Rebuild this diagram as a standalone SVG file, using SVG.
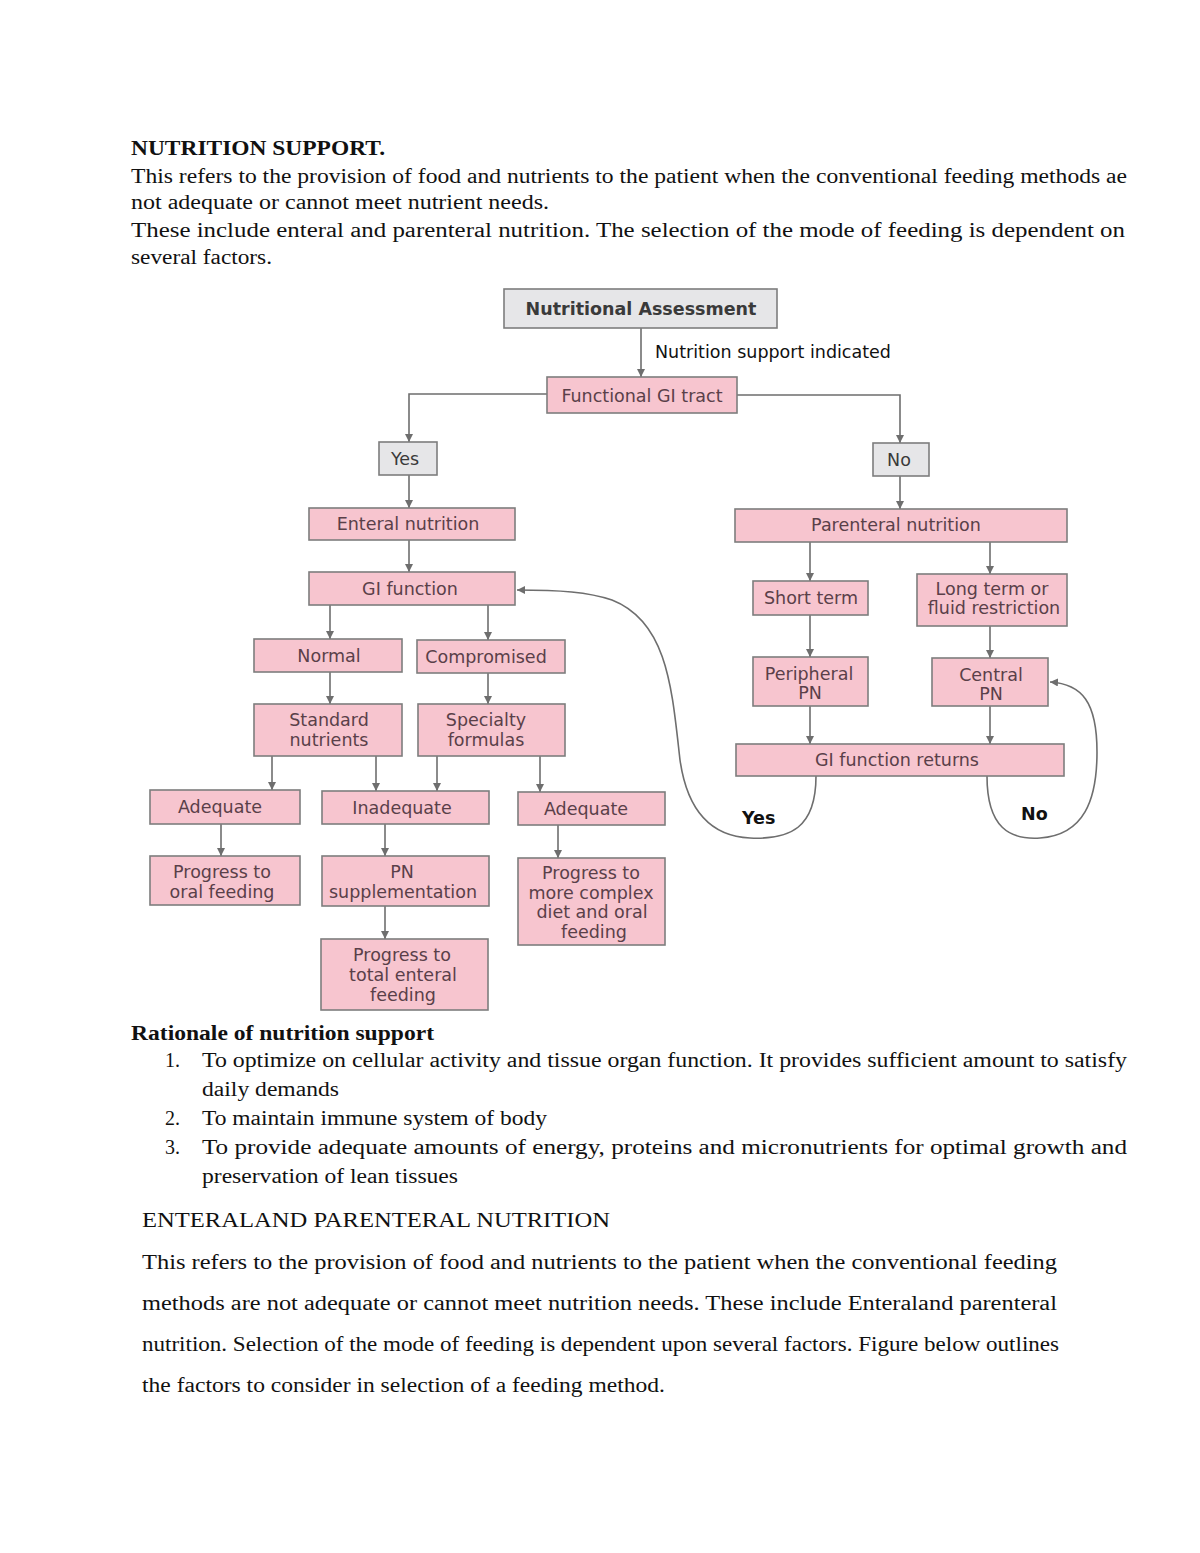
<svg xmlns="http://www.w3.org/2000/svg" width="1200" height="1553" viewBox="0 0 1200 1553">
<defs>
<style>
.doc{font-family:"Liberation Serif","Times New Roman",serif;font-size:20px;fill:#111}
.b{font-weight:bold}
.pk{fill:#f7c5cf;stroke:#7d7d7d;stroke-width:1.6}
.gy{fill:#e6e6e8;stroke:#7d7d7d;stroke-width:1.6}
.nt{font-family:"DejaVu Sans","Liberation Sans",Arial,sans-serif;font-size:17.5px;fill:#5a4049;text-anchor:middle}
.gt{font-family:"DejaVu Sans","Liberation Sans",Arial,sans-serif;font-size:17.5px;fill:#3a3a3a;text-anchor:middle}
.lbl{font-family:"DejaVu Sans","Liberation Sans",Arial,sans-serif;font-size:17.5px;fill:#111}
.ln{fill:none;stroke:#6e6e6e;stroke-width:1.6}
</style>
<marker id="ah" viewBox="0 0 10 10" refX="10" refY="5" markerWidth="8" markerHeight="8" markerUnits="userSpaceOnUse" orient="auto">
<path d="M0,0 L10,5 L0,10 z" fill="#6e6e6e"/>
</marker>
</defs>
<rect width="1200" height="1553" fill="#fff"/>

<g id="intro-text">
<text class="doc b" x="131" y="155" textLength="254" lengthAdjust="spacingAndGlyphs">NUTRITION SUPPORT.</text>
<text class="doc" x="131" y="183" textLength="996" lengthAdjust="spacingAndGlyphs">This refers to the provision of food and nutrients to the patient when the conventional feeding methods ae</text>
<text class="doc" x="131" y="209" textLength="418" lengthAdjust="spacingAndGlyphs">not adequate or cannot meet nutrient needs.</text>
<text class="doc" x="131" y="237" textLength="994" lengthAdjust="spacingAndGlyphs">These include enteral and parenteral nutrition. The selection of the mode of feeding is dependent on</text>
<text class="doc" x="131" y="264" textLength="141" lengthAdjust="spacingAndGlyphs">several factors.</text>
</g>

<g id="connectors">
<line class="ln" x1="641" y1="328" x2="641" y2="377" marker-end="url(#ah)"/>
<polyline class="ln" points="547,394 409,394 409,442" marker-end="url(#ah)"/>
<polyline class="ln" points="737,395 900,395 900,443" marker-end="url(#ah)"/>
<line class="ln" x1="409" y1="475" x2="409" y2="508" marker-end="url(#ah)"/>
<line class="ln" x1="900" y1="476" x2="900" y2="509" marker-end="url(#ah)"/>
<line class="ln" x1="409" y1="540" x2="409" y2="572" marker-end="url(#ah)"/>
<line class="ln" x1="330" y1="605" x2="330" y2="639" marker-end="url(#ah)"/>
<line class="ln" x1="488" y1="605" x2="488" y2="640" marker-end="url(#ah)"/>
<line class="ln" x1="330" y1="672" x2="330" y2="704" marker-end="url(#ah)"/>
<line class="ln" x1="488" y1="673" x2="488" y2="704" marker-end="url(#ah)"/>
<line class="ln" x1="272" y1="756" x2="272" y2="790" marker-end="url(#ah)"/>
<line class="ln" x1="376" y1="756" x2="376" y2="791" marker-end="url(#ah)"/>
<line class="ln" x1="437" y1="756" x2="437" y2="791" marker-end="url(#ah)"/>
<line class="ln" x1="540" y1="756" x2="540" y2="792" marker-end="url(#ah)"/>
<line class="ln" x1="221" y1="824" x2="221" y2="856" marker-end="url(#ah)"/>
<line class="ln" x1="385" y1="824" x2="385" y2="856" marker-end="url(#ah)"/>
<line class="ln" x1="385" y1="906" x2="385" y2="939" marker-end="url(#ah)"/>
<line class="ln" x1="558" y1="825" x2="558" y2="858" marker-end="url(#ah)"/>
<line class="ln" x1="810" y1="542" x2="810" y2="581" marker-end="url(#ah)"/>
<line class="ln" x1="990" y1="542" x2="990" y2="574" marker-end="url(#ah)"/>
<line class="ln" x1="810" y1="615" x2="810" y2="657" marker-end="url(#ah)"/>
<line class="ln" x1="990" y1="626" x2="990" y2="658" marker-end="url(#ah)"/>
<line class="ln" x1="810" y1="706" x2="810" y2="744" marker-end="url(#ah)"/>
<line class="ln" x1="990" y1="706" x2="990" y2="744" marker-end="url(#ah)"/>
<path class="ln" d="M816,776 C816,828 790,840 750,838 C705,836 686,802 680,760 C672,690 668,622 612,600 C588,592 560,590 517,590" marker-end="url(#ah)"/>
<path class="ln" d="M987,776 C987,828 1010,840 1040,838 C1084,835 1097,800 1097,752 C1097,702 1082,684 1050,682" marker-end="url(#ah)"/>
<text class="lbl" x="655" y="358">Nutrition support indicated</text>
<text class="lbl" x="742" y="824" font-weight="bold" fill="#222">Yes</text>
<text class="lbl" x="1021" y="820" font-weight="bold" fill="#222">No</text>
</g>

<g id="n-assess"><rect class="gy" x="504" y="289" width="273" height="39"/><text class="gt" x="641" y="315" font-weight="bold">Nutritional Assessment</text></g>
<g id="n-functional"><rect class="pk" x="547" y="377" width="190" height="36"/><text class="nt" x="642" y="402">Functional GI tract</text></g>
<g id="n-yes"><rect class="gy" x="379" y="442" width="58" height="33"/><text class="gt" x="405" y="465">Yes</text></g>
<g id="n-no"><rect class="gy" x="873" y="443" width="56" height="33"/><text class="gt" x="899" y="466">No</text></g>
<g id="n-enteral"><rect class="pk" x="309" y="508" width="206" height="32"/><text class="nt" x="408" y="530">Enteral nutrition</text></g>
<g id="n-parenteral"><rect class="pk" x="735" y="509" width="332" height="33"/><text class="nt" x="896" y="531">Parenteral nutrition</text></g>
<g id="n-gifunction"><rect class="pk" x="309" y="572" width="206" height="33"/><text class="nt" x="410" y="595">GI function</text></g>
<g id="n-short"><rect class="pk" x="753" y="581" width="115" height="34"/><text class="nt" x="811" y="604">Short term</text></g>
<g id="n-long"><rect class="pk" x="917" y="574" width="150" height="52"/><text class="nt" x="992" y="595">Long term or</text><text class="nt" x="994" y="614">fluid restriction</text></g>
<g id="n-normal"><rect class="pk" x="254" y="639" width="148" height="33"/><text class="nt" x="329" y="662">Normal</text></g>
<g id="n-compromised"><rect class="pk" x="417" y="640" width="148" height="33"/><text class="nt" x="486" y="663">Compromised</text></g>
<g id="n-standard"><rect class="pk" x="254" y="704" width="148" height="52"/><text class="nt" x="329" y="726">Standard</text><text class="nt" x="329" y="746">nutrients</text></g>
<g id="n-specialty"><rect class="pk" x="418" y="704" width="147" height="52"/><text class="nt" x="486" y="726">Specialty</text><text class="nt" x="486" y="746">formulas</text></g>
<g id="n-peripheral"><rect class="pk" x="753" y="657" width="115" height="49"/><text class="nt" x="809" y="680">Peripheral</text><text class="nt" x="810" y="699">PN</text></g>
<g id="n-central"><rect class="pk" x="932" y="658" width="116" height="48"/><text class="nt" x="991" y="681">Central</text><text class="nt" x="991" y="700">PN</text></g>
<g id="n-returns"><rect class="pk" x="736" y="744" width="328" height="32"/><text class="nt" x="897" y="766">GI function returns</text></g>
<g id="n-adequate1"><rect class="pk" x="150" y="790" width="150" height="34"/><text class="nt" x="220" y="813">Adequate</text></g>
<g id="n-inadequate"><rect class="pk" x="322" y="791" width="167" height="33"/><text class="nt" x="402" y="814">Inadequate</text></g>
<g id="n-adequate2"><rect class="pk" x="518" y="792" width="147" height="33"/><text class="nt" x="586" y="815">Adequate</text></g>
<g id="n-oral"><rect class="pk" x="150" y="856" width="150" height="49"/><text class="nt" x="222" y="878">Progress to</text><text class="nt" x="222" y="898">oral feeding</text></g>
<g id="n-pnsupp"><rect class="pk" x="322" y="856" width="167" height="50"/><text class="nt" x="402" y="878">PN</text><text class="nt" x="403" y="898">supplementation</text></g>
<g id="n-complex"><rect class="pk" x="518" y="858" width="147" height="87"/><text class="nt" x="591" y="879">Progress to</text><text class="nt" x="591" y="899">more complex</text><text class="nt" x="592" y="918">diet and oral</text><text class="nt" x="594" y="938">feeding</text></g>
<g id="n-totalenteral"><rect class="pk" x="321" y="939" width="167" height="71"/><text class="nt" x="402" y="961">Progress to</text><text class="nt" x="403" y="981">total enteral</text><text class="nt" x="403" y="1001">feeding</text></g>

<g id="rationale-text">
<text class="doc b" x="131" y="1040" textLength="303" lengthAdjust="spacingAndGlyphs">Rationale of nutrition support</text>
<text class="doc" x="165" y="1067">1.</text>
<text class="doc" x="202" y="1067" textLength="925" lengthAdjust="spacingAndGlyphs">To optimize on cellular activity and tissue organ function. It provides sufficient amount to satisfy</text>
<text class="doc" x="202" y="1096" textLength="137" lengthAdjust="spacingAndGlyphs">daily demands</text>
<text class="doc" x="165" y="1125">2.</text>
<text class="doc" x="202" y="1125" textLength="345" lengthAdjust="spacingAndGlyphs">To maintain immune system of body</text>
<text class="doc" x="165" y="1154">3.</text>
<text class="doc" x="202" y="1154" textLength="925" lengthAdjust="spacingAndGlyphs">To provide adequate amounts of energy, proteins and micronutrients for optimal growth and</text>
<text class="doc" x="202" y="1183" textLength="256" lengthAdjust="spacingAndGlyphs">preservation of lean tissues</text>
</g>

<g id="enteral-text">
<text class="doc" x="142" y="1227" textLength="468" lengthAdjust="spacingAndGlyphs">ENTERALAND PARENTERAL NUTRITION</text>
<text class="doc" x="142" y="1269" textLength="915" lengthAdjust="spacingAndGlyphs">This refers to the provision of food and nutrients to the patient when the conventional feeding</text>
<text class="doc" x="142" y="1310" textLength="915" lengthAdjust="spacingAndGlyphs">methods are not adequate or cannot meet nutrition needs. These include Enteraland parenteral</text>
<text class="doc" x="142" y="1351" textLength="917" lengthAdjust="spacingAndGlyphs">nutrition. Selection of the mode of feeding is dependent upon several factors. Figure below outlines</text>
<text class="doc" x="142" y="1392" textLength="523" lengthAdjust="spacingAndGlyphs">the factors to consider in selection of a feeding method.</text>
</g>
</svg>
